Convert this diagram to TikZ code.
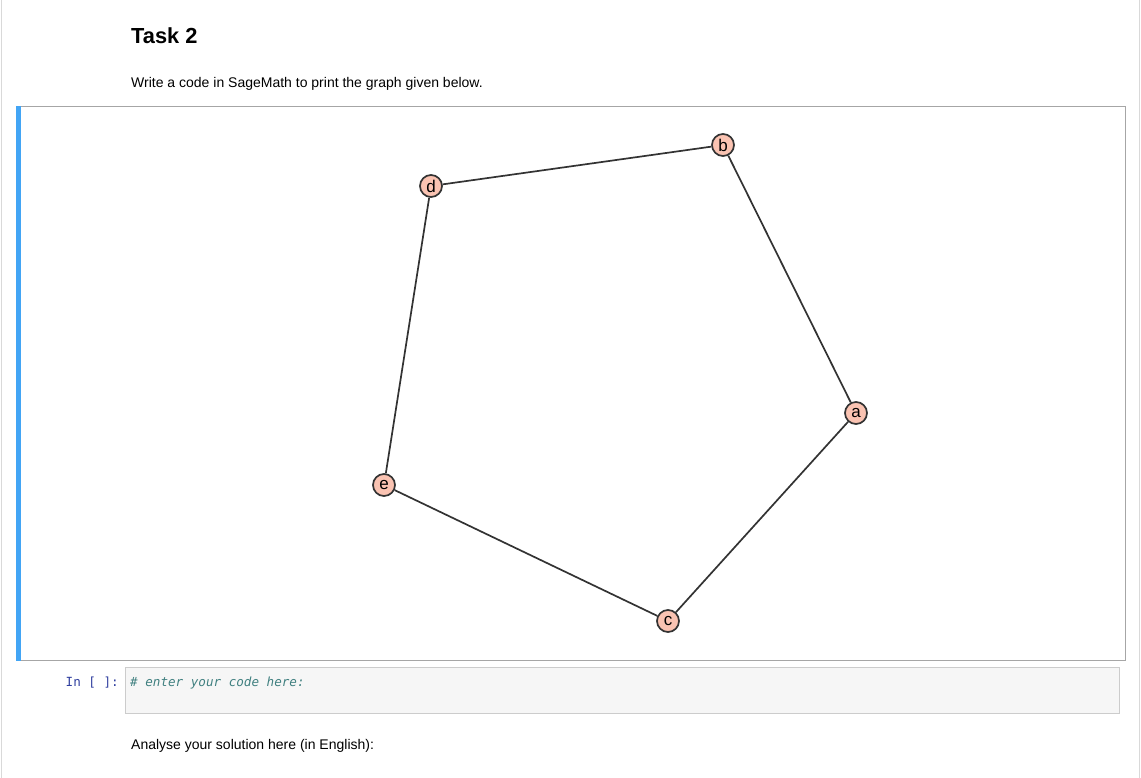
\documentclass[tikz,border=0pt]{standalone}
\usepackage{fontspec}
\setmainfont{Liberation Sans}
\setmonofont{DejaVu Sans Mono}
\usetikzlibrary{positioning}

\definecolor{vertexfill}{HTML}{FAC3B2}
\definecolor{edgecol}{HTML}{333333}
\definecolor{promptcol}{HTML}{303F9F}
\definecolor{commentcol}{HTML}{408080}
\definecolor{cellbar}{HTML}{42A5F5}

\begin{document}
\begin{tikzpicture}[x=1pt,y=-1pt,
    vertex/.style={circle,draw=edgecol,fill=vertexfill,line width=1.7pt,
      minimum size=22pt,inner sep=0pt,font=\fontsize{17}{17}\selectfont},
    edge/.style={draw=edgecol,line width=1.7pt},
    txt/.style={anchor=base west,inner sep=0pt,font=\fontsize{14}{16}\selectfont}]
  \useasboundingbox (0,0) rectangle (1141,778);
  % notebook frame
  \draw[black!15,line width=1pt] (1.5,0) -- (1.5,778);
  \draw[black!15,line width=1pt] (1139.5,0) -- (1139.5,778);
  \node[txt,font=\bfseries\fontsize{21.8}{25}\selectfont] (title) at (131,44) {Task 2};
  \node[txt] (task) at (131,88) {Write a code in SageMath to print the graph given below.};
  % output area
  \draw[black!35,line width=1pt] (16,106.5) rectangle (1125,660);
  \fill[cellbar] (16,106) rectangle (21,660.5);
  % the graph
  \node[vertex] (b) at (723,145) {b};
  \node[vertex] (d) at (431,186) {d};
  \node[vertex] (a) at (856,413) {a};
  \node[vertex] (e) at (384,485) {e};
  \node[vertex] (c) at (668,621) {c};
  \foreach \u/\v in {d/b,b/a,a/c,c/e,e/d}
    \path[edge] (\u) -- (\v);
  % code cell
  \draw[black!20,fill=black!3.5,line width=1pt] (125.5,667.5) rectangle (1119.5,713.5);
  \node[anchor=base east,inner sep=0pt,text=promptcol,font=\ttfamily\fontsize{12.6}{15}\selectfont] (prompt) at (119,686) {In [ ]:};
  \node[anchor=base west,inner sep=0pt,text=commentcol,font=\ttfamily\itshape\fontsize{12.6}{15}\selectfont] (code) at (130,686) {\# enter your code here:};
  \node[txt] (analyse) at (131,749) {Analyse your solution here (in English):};
\end{tikzpicture}
\end{document}
